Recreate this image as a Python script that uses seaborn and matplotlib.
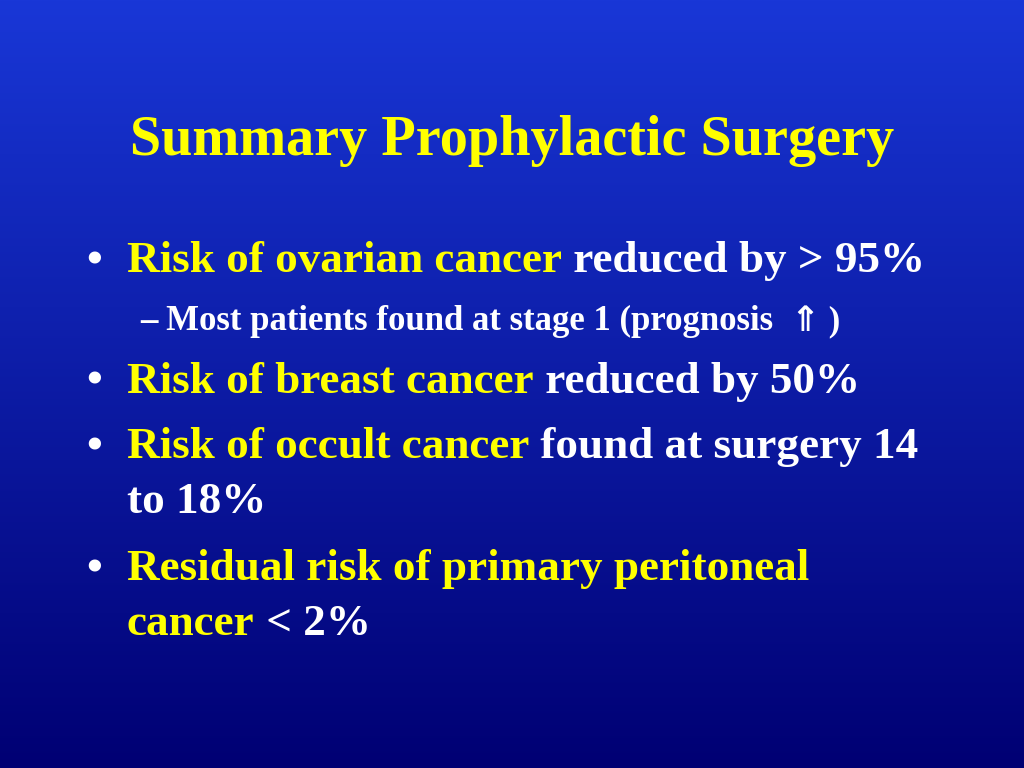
import numpy as np
import matplotlib
matplotlib.use("Agg")
import matplotlib.pyplot as plt
import seaborn as sns

sns.set_theme(style="white")
plt.rcParams['font.family'] = ['Liberation Serif', 'DejaVu Serif']

title = "Summary Prophylactic Surgery"
YEL = "#ffff00"
WHT = "#ffffff"
lines = [
    (86, 272, 32.5, [("•", WHT)]),
    (127, 272, 32.5, [("Risk of ovarian cancer", YEL), (" reduced by > 95%", WHT)]),
    (140, 330, 25, [("– Most patients found at stage 1 (prognosis  ", WHT), ("⇑", WHT), (" )", WHT)]),
    (86, 393, 32.5, [("•", WHT)]),
    (127, 393, 32.5, [("Risk of breast cancer", YEL), (" reduced by 50%", WHT)]),
    (86, 458, 32.5, [("•", WHT)]),
    (127, 458, 32.5, [("Risk of occult cancer", YEL), (" found at surgery 14", WHT)]),
    (127, 513, 32.5, [("to 18%", WHT)]),
    (86, 580, 32.5, [("•", WHT)]),
    (127, 580, 32.5, [("Residual risk of primary peritoneal", YEL)]),
    (127, 635, 32.5, [("cancer", YEL), (" < 2%", WHT)]),
]

fig = plt.figure(figsize=(10.24, 7.68), dpi=100)
ax = fig.add_axes([0, 0, 1, 1])
top = np.array([25, 55, 215]) / 255
bot = np.array([0, 0, 115]) / 255
t = np.linspace(0, 1, 256)[:, None, None]
grad = top * (1 - t) + bot * t
grad = np.repeat(grad, 2, axis=1)
ax.imshow(grad, extent=[0, 1024, 768, 0], aspect='auto')
ax.set_xlim(0, 1024)
ax.set_ylim(768, 0)
ax.axis('off')

ax.text(512, 155, title, color=YEL, fontsize=40.5, fontweight='bold',
        ha='center', va='baseline')

for x, y, size, segs in lines:
    prev = None
    for txt, col in segs:
        fam = ['DejaVu Sans'] if txt == "⇑" else ['Liberation Serif', 'DejaVu Serif']
        if prev is None:
            prev = ax.text(x, y, txt, color=col, fontsize=size, fontweight='bold',
                           ha='left', va='baseline', family=fam)
        else:
            prev = ax.annotate(txt, xy=(1, 0), xycoords=prev, color=col,
                               fontsize=size, fontweight='bold', ha='left',
                               va='bottom', family=fam)

fig.savefig("out.png", dpi=100)
